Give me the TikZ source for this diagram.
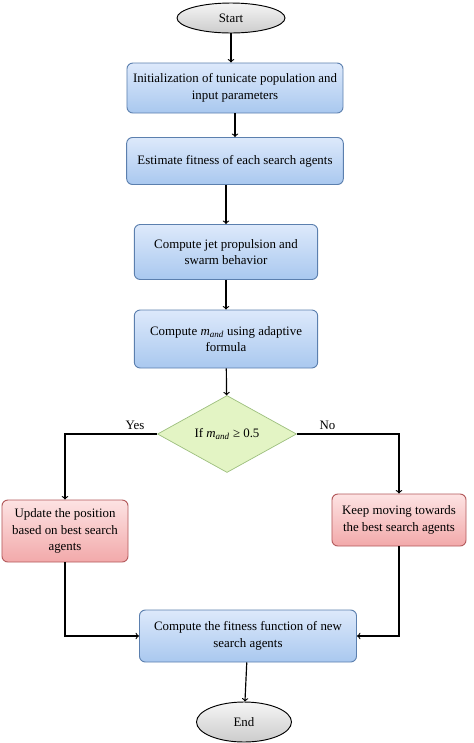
\documentclass[tikz,border=0pt]{standalone}
\usepackage{fontspec}
\setmainfont{Liberation Serif}
\usepackage{amsmath}
\usepackage{tikz}
\usetikzlibrary{shapes, arrows, positioning, calc}

\definecolor{bluetop}{HTML}{DDE9FB}
\definecolor{bluebot}{HTML}{A9C8EF}
\definecolor{blueline}{HTML}{5B7FAE}
\definecolor{redtop}{HTML}{FDE3E3}
\definecolor{redbot}{HTML}{F2A9AA}
\definecolor{redline}{HTML}{B2585A}
\definecolor{greenfill}{HTML}{E3F4C4}
\definecolor{greenline}{HTML}{9DBF7E}

\newcommand{\mand}{\textit{m}\textsubscript{\textit{and}}}

\tikzset{
	procbox/.style={rectangle, rounded corners=5pt, draw=blueline, line width=0.8pt, top color=bluetop, bottom color=bluebot, align=center, font=\fontsize{11}{14}\selectfont, inner sep=2pt},
	altbox/.style={rectangle, rounded corners=5pt, draw=redline, line width=0.8pt, top color=redtop, bottom color=redbot, align=center, font=\fontsize{11}{14}\selectfont, inner sep=2pt},
	termnode/.style={ellipse, draw=black, line width=0.8pt, top color=gray!8, bottom color=gray!40, font=\fontsize{11}{14}\selectfont, inner sep=0pt},
	decision/.style={diamond, aspect=1.8, draw=greenline, line width=0.6pt, fill=greenfill, font=\fontsize{11}{14}\selectfont, inner sep=1pt},
	flow/.style={->, >=to, line width=1pt}
}

\begin{document}
\begin{tikzpicture}[x=0.03cm, y=-0.03cm]
	
	%//pixel grid of the page
	\useasboundingbox (0,0) rectangle (474,743);
	
	\node [termnode, minimum width=3.24cm, minimum height=0.9cm] (start) at (231,18) {Start};
	
	\node [procbox, minimum width=6.48cm, minimum height=1.5cm] (init) at (235,88) {Initialization of tunicate population and\\input parameters};
	\node [procbox, minimum width=6.5cm, minimum height=1.41cm] (fitness) at (235,161) {Estimate fitness of each search agents};
	\node [procbox, minimum width=5.5cm, minimum height=1.65cm] (jet) at (226,252) {Compute jet propulsion and\\swarm behavior};
	\node [procbox, minimum width=5.5cm, minimum height=1.74cm] (madapt) at (226,339) {Compute \mand{} using adaptive\\formula};
	
	\node [decision, minimum width=4.17cm, minimum height=2.31cm] (decide) at (227,434) {If \mand{} ≥ 0.5};
	
	\node [altbox, minimum width=3.78cm, minimum height=1.86cm] (update) at (65,531) {Update the position\\based on best search\\agents};
	\node [altbox, minimum width=4.02cm, minimum height=1.56cm] (keep) at (399,520) {Keep moving towards\\the best search agents};
	
	\node [procbox, minimum width=6.51cm, minimum height=1.56cm] (newfit) at (248,636) {Compute the fitness function of new\\search agents};
	
	\node [termnode, minimum width=2.85cm, minimum height=1.2cm] (finish) at (244,722) {End};
	
	%//connectors
	\draw [flow] (start) -- (start |- init.north);
	\draw [flow] (init.south -| fitness) -- (fitness);
	\draw [flow] (fitness.south -| jet) -- (jet);
	\draw [flow] (jet) -- (madapt);
	\draw [flow] (madapt) -- (decide);
	
	\draw [flow] (decide.west) -| node [above, pos=0.12, font=\fontsize{11}{14}\selectfont] (yes) {Yes} (update.north);
	\draw [flow] (decide.east) -| node [above, pos=0.15, font=\fontsize{11}{14}\selectfont] (no) {No} (keep.north);
	
	\draw [flow] (update.south) |- (newfit.west);
	\draw [flow] (keep.south) |- (newfit.east);
	
	\draw [flow] (newfit) -- (finish);
	
\end{tikzpicture}
\end{document}
